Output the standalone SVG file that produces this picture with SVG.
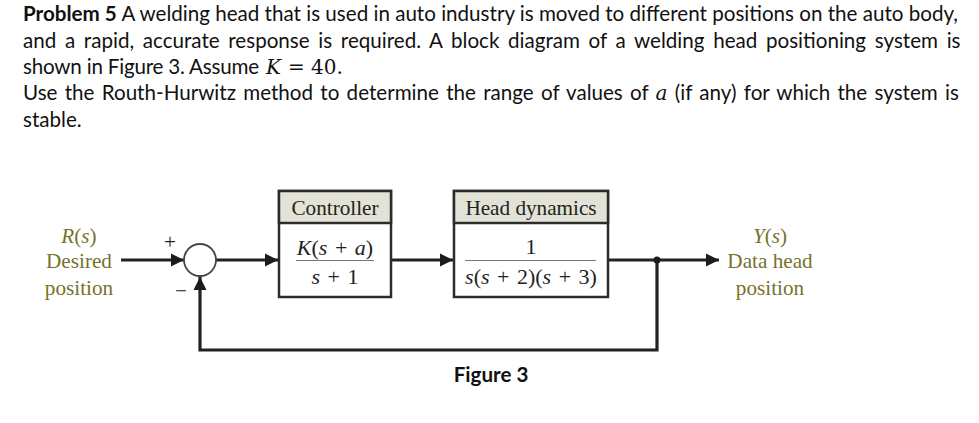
<svg xmlns="http://www.w3.org/2000/svg" width="979" height="423" viewBox="0 0 979 423">
<style>
.p{font-family:Lato,"Open Sans",sans-serif;font-size:20.6px;fill:#111}
.b{font-weight:700}
.m{font-family:"DejaVu Serif","Liberation Serif",serif;font-size:20px;font-style:italic}
.m0{font-family:"DejaVu Serif","Liberation Serif",serif;font-size:20px}
.t{font-family:"Liberation Serif",serif;font-size:21.2px;fill:#222;text-anchor:middle}
.f{font-size:22px;word-spacing:2px}
.o{fill:#77722c}
.i{font-style:italic}
.hd{fill:#e3e2d6;stroke:#2c2c2c;stroke-width:2.5}
.bx{fill:#fff;stroke:#2c2c2c;stroke-width:2.5}
.w{fill:none;stroke:#222;stroke-width:3.2}
.fr{stroke:#777;stroke-width:1.2}
</style>
<defs>
<marker id="a" markerUnits="userSpaceOnUse" markerWidth="14" markerHeight="14" refX="13" refY="7" orient="auto"><path d="M0 0.5L13 7L0 13.5Z" fill="#1c1c1c"/></marker>
</defs>
<rect width="979" height="423" fill="#fff"/>
<g id="problem-text">
<text class="p" x="23" y="21" id="l1"><tspan class="b">Problem 5</tspan> A welding head that is used in auto industry is moved to different positions on the auto body,</text>
<text class="p" x="23" y="48" id="l2" word-spacing="3.4">and a rapid, accurate response is required. A block diagram of a welding head positioning system is</text>
<text class="p" x="23" y="74"><tspan letter-spacing="-0.2">shown in Figure 3. Assume</tspan> <tspan class="m" x="266">K</tspan><tspan class="m0" x="288">=</tspan><tspan class="m0" x="311">40.</tspan></text>
<text class="p" x="23" y="100" id="l4" word-spacing="2">Use the Routh-Hurwitz method to determine the range of values of <tspan class="m">a</tspan> (if any) for which the system is</text>
<text class="p" x="23" y="127">stable.</text>
</g>
<g id="connectors">
<path class="w" d="M121 260H184" marker-end="url(#a)"/>
<path class="w" d="M216 260H278" marker-end="url(#a)"/>
<path class="w" d="M391 260H453" marker-end="url(#a)"/>
<path class="w" d="M608 260H719" marker-end="url(#a)"/>
<path class="w" d="M657 260V350H200V277" marker-end="url(#a)"/>
<circle cx="657" cy="260" r="3.5" fill="#1c1c1c"/>
</g>
<g id="sum">
<circle cx="200" cy="260" r="16" fill="#fff" stroke="#444" stroke-width="1.8"/>
<text class="t" x="170" y="249">+</text>
<text class="t" x="181" y="298">−</text>
</g>
<g id="input">
<text class="t o" x="79" y="243"><tspan class="i">R</tspan>(<tspan class="i">s</tspan>)</text>
<text class="t o" x="79" y="268">Desired</text>
<text class="t o" x="79" y="295">position</text>
</g>
<g id="controller">
<rect class="bx" x="279" y="191" width="112" height="106"/>
<rect class="hd" x="279" y="191" width="112" height="32"/>
<text class="t" x="335" y="215">Controller</text>
<text class="t f" x="335" y="255"><tspan class="i">K</tspan>(<tspan class="i">s</tspan> + <tspan class="i">a</tspan>)</text>
<line class="fr" x1="296" y1="260.500" x2="374" y2="260.500"/>
<text class="t f" x="335" y="284"><tspan class="i">s</tspan> + 1</text>
</g>
<g id="head-dynamics">
<rect class="bx" x="454" y="191" width="154" height="106"/>
<rect class="hd" x="454" y="191" width="154" height="32"/>
<text class="t" x="531" y="215">Head dynamics</text>
<text class="t f" x="531" y="254">1</text>
<line class="fr" x1="465" y1="260.500" x2="596" y2="260.500"/>
<text class="t f" x="531" y="284"><tspan class="i">s</tspan>(<tspan class="i">s</tspan> + 2)(<tspan class="i">s</tspan> + 3)</text>
</g>
<g id="output">
<text class="t o" x="770" y="243"><tspan class="i">Y</tspan>(<tspan class="i">s</tspan>)</text>
<text class="t o" x="770" y="268">Data head</text>
<text class="t o" x="770" y="295">position</text>
</g>
<text class="p b" x="491" y="382" text-anchor="middle">Figure 3</text>
</svg>
